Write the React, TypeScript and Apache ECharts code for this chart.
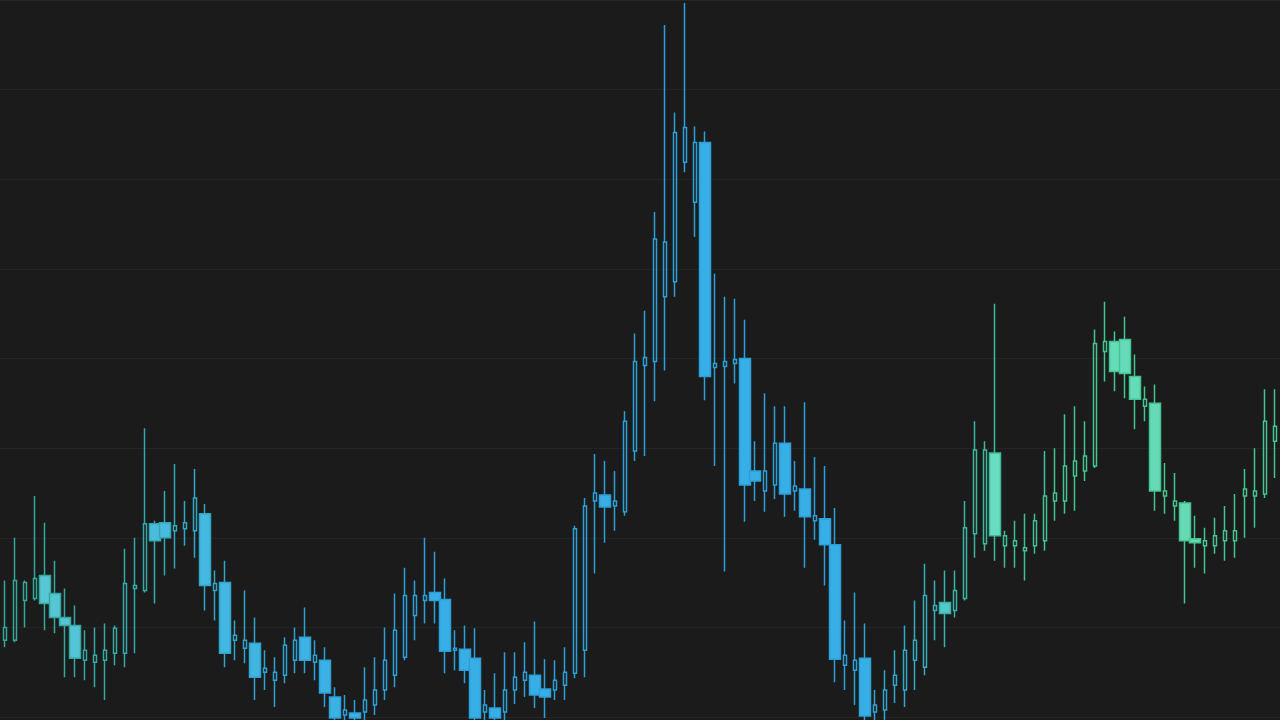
import React, { useEffect, useRef } from "react";
import * as echarts from "echarts";

// OHLC values (price units), left to right
const openV = [
  77, 77, 117, 119, 142, 124, 100, 92, 57, 55, 57, 64, 64, 129, 127, 194, 195, 187, 189, 187,
  204, 127, 135, 77, 69, 74, 45, 37, 42, 57, 80, 55, 57, 20, 2, 4, 5, 12, 27, 42,
  60, 102, 117, 125, 118, 67, 68, 59, 5, 9, 5, 27, 37, 42, 28, 27, 32, 44, 67, 217,
  223, 212, 206, 267, 353, 357, 422, 437, 557, 517, 577, 351, 352, 355, 360, 247, 227, 233, 275, 227,
  229, 197, 199, 173, 52, 47, 59, 5, 7, 32, 27, 57, 50, 107, 115, 107, 119, 184, 174, 265,
  172, 172, 167, 172, 177, 217, 217, 242, 247, 252, 367, 377, 379, 342, 312, 315, 222, 212, 215, 179,
  172, 172, 177, 177, 222, 222, 224, 277,
];
const closeV = [
  90, 137, 135, 139, 114, 100, 92, 59, 67, 62, 67, 89, 134, 132, 194, 177, 180, 192, 195, 220,
  132, 134, 64, 82, 77, 40, 49, 45, 72, 77, 57, 62, 24, -1, 7, -1, 17, 27, 57, 87,
  122, 122, 122, 117, 66, 69, 47, -1, 12, -1, 27, 40, 45, 22, 20, 37, 45, 189, 212, 225,
  211, 217, 297, 357, 361, 480, 477, 587, 592, 577, 342, 355, 357, 359, 233, 237, 247, 275, 224, 232,
  201, 202, 173, 58, 62, 57, 1, 12, 27, 42, 67, 77, 122, 112, 104, 127, 190, 268, 268, 182,
  182, 177, 170, 197, 222, 225, 252, 257, 262, 375, 377, 347, 345, 319, 319, 227, 227, 217, 177, 175,
  177, 182, 187, 187, 229, 227, 297, 292,
];
const lowV = [
  70, 75, 90, 117, 87, 84, 40, 40, 37, 30, 17, 52, 50, 64, 125, 114, 142, 149, 172, 160,
  107, 97, 50, 57, 54, 17, 27, 10, 34, 44, 44, 37, 10, -3, -3, -3, -3, 2, 17, 30,
  57, 77, 94, 94, 44, 47, 34, -3, -3, -3, -3, 13, 20, 9, -1, 17, 17, 39, 40, 144,
  175, 187, 202, 257, 262, 317, 348, 422, 547, 482, 318, 252, 146, 335, 196, 217, 206, 219, 201, 207,
  150, 178, 132, 35, 27, 12, -3, -3, -3, 14, 10, 27, 42, 77, 70, 100, 117, 160, 167, 157,
  150, 150, 137, 164, 167, 197, 204, 207, 237, 250, 337, 327, 320, 289, 297, 207, 204, 197, 114, 150,
  144, 164, 157, 160, 180, 190, 220, 240,
];
const highV = [
  137, 180, 137, 222, 195, 157, 129, 112, 87, 90, 94, 92, 169, 180, 290, 197, 227, 254, 217, 249,
  214, 147, 157, 97, 127, 100, 67, 60, 80, 90, 110, 77, 70, 30, 22, 17, 50, 60, 90, 124,
  150, 137, 180, 166, 139, 87, 92, 89, 27, 44, 65, 65, 75, 96, 58, 57, 70, 192, 220, 264,
  257, 247, 307, 385, 408, 507, 695, 607, 717, 593, 588, 445, 422, 420, 399, 277, 325, 312, 312, 257,
  316, 261, 252, 210, 97, 125, 94, 27, 47, 67, 92, 117, 154, 137, 147, 147, 217, 297, 277, 415,
  187, 197, 204, 204, 267, 270, 304, 312, 297, 389, 417, 387, 402, 364, 332, 334, 255, 245, 217, 202,
  190, 200, 212, 224, 249, 270, 329, 329,
];
const categories = openV.map((_, i) => `K${i + 1}`);
const gridTicks = [0, 90, 180, 270, 360, 450, 540, 630, 720];

// colour ramps (position along the chart -> colour)
const wickStops: [number, string][] = [
  [0.0, "#33a892"],
  [0.1, "#35a8a8"],
  [0.16, "#32a5c6"],
  [0.26, "#2c9fd8"],
  [0.66, "#2c9fd8"],
  [0.71, "#33a8c4"],
  [0.76, "#3bb79c"],
  [0.84, "#44c48e"],
  [1.0, "#44c48e"],
];
const bodyStops: [number, string][] = [
  [0.0, "#5ccbd2"],
  [0.15, "#45b8e0"],
  [0.3, "#38aee6"],
  [0.68, "#38aee6"],
  [0.74, "#52c8c8"],
  [0.78, "#68ddc0"],
  [1.0, "#64d8b0"],
];

function hex(c: string): number[] {
  return [1, 3, 5].map((k) => parseInt(c.slice(k, k + 2), 16));
}
function ramp(stops: [number, string][], t: number): string {
  for (let k = 0; k < stops.length - 1; k++) {
    const [t0, c0] = stops[k];
    const [t1, c1] = stops[k + 1];
    if (t >= t0 && t <= t1) {
      const f = t1 === t0 ? 0 : (t - t0) / (t1 - t0);
      const a = hex(c0);
      const b = hex(c1);
      const m = a.map((v, j) => Math.round(v + (b[j] - v) * f));
      return `rgb(${m[0]},${m[1]},${m[2]})`;
    }
  }
  return stops[stops.length - 1][1];
}

export default function App() {
  const ref = useRef<HTMLDivElement>(null);
  useEffect(() => {
    if (!ref.current) return;
    const chart = echarts.init(ref.current, null, { renderer: "svg" });
    const n = categories.length;
    const upData = categories.map((_, i) => {
      if (closeV[i] > openV[i]) {
        const t = i / (n - 1);
        return {
          value: [openV[i], closeV[i], lowV[i], highV[i]],
          itemStyle: { color: "transparent", borderColor: ramp(wickStops, t) },
        };
      }
      return "-";
    });
    const downData = categories.map((_, i) => {
      if (closeV[i] <= openV[i]) {
        const t = i / (n - 1);
        return {
          value: [openV[i], closeV[i], lowV[i], highV[i]],
          itemStyle: { color0: ramp(bodyStops, t), borderColor0: ramp(wickStops, t) },
        };
      }
      return "-";
    });
    chart.setOption({
      animation: false,
      backgroundColor: "#1b1b1b",
      grid: { left: 0, right: 0, top: -3, height: 720 },
      xAxis: {
        type: "category",
        data: categories,
        boundaryGap: true,
        show: false,
      },
      yAxis: {
        type: "value",
        min: gridTicks[0],
        max: gridTicks[gridTicks.length - 1],
        interval: 90,
        axisLabel: { show: false },
        axisLine: { show: false },
        axisTick: { show: false },
        splitLine: { show: true, lineStyle: { color: "#222525", width: 1 } },
      },
      series: [
        {
          name: "up",
          type: "candlestick",
          data: upData,
          barWidth: 4,
          clip: false,
          itemStyle: { borderWidth: 1.5 },
        },
        {
          name: "down",
          type: "candlestick",
          data: downData,
          barWidth: 11,
          clip: false,
          itemStyle: { borderWidth: 1.5 },
        },
      ],
    });
    return () => chart.dispose();
  }, []);
  return (
    <div
      ref={ref}
      style={{ position: "fixed", left: 0, top: 0, width: 1280, height: 720 }}
    />
  );
}
